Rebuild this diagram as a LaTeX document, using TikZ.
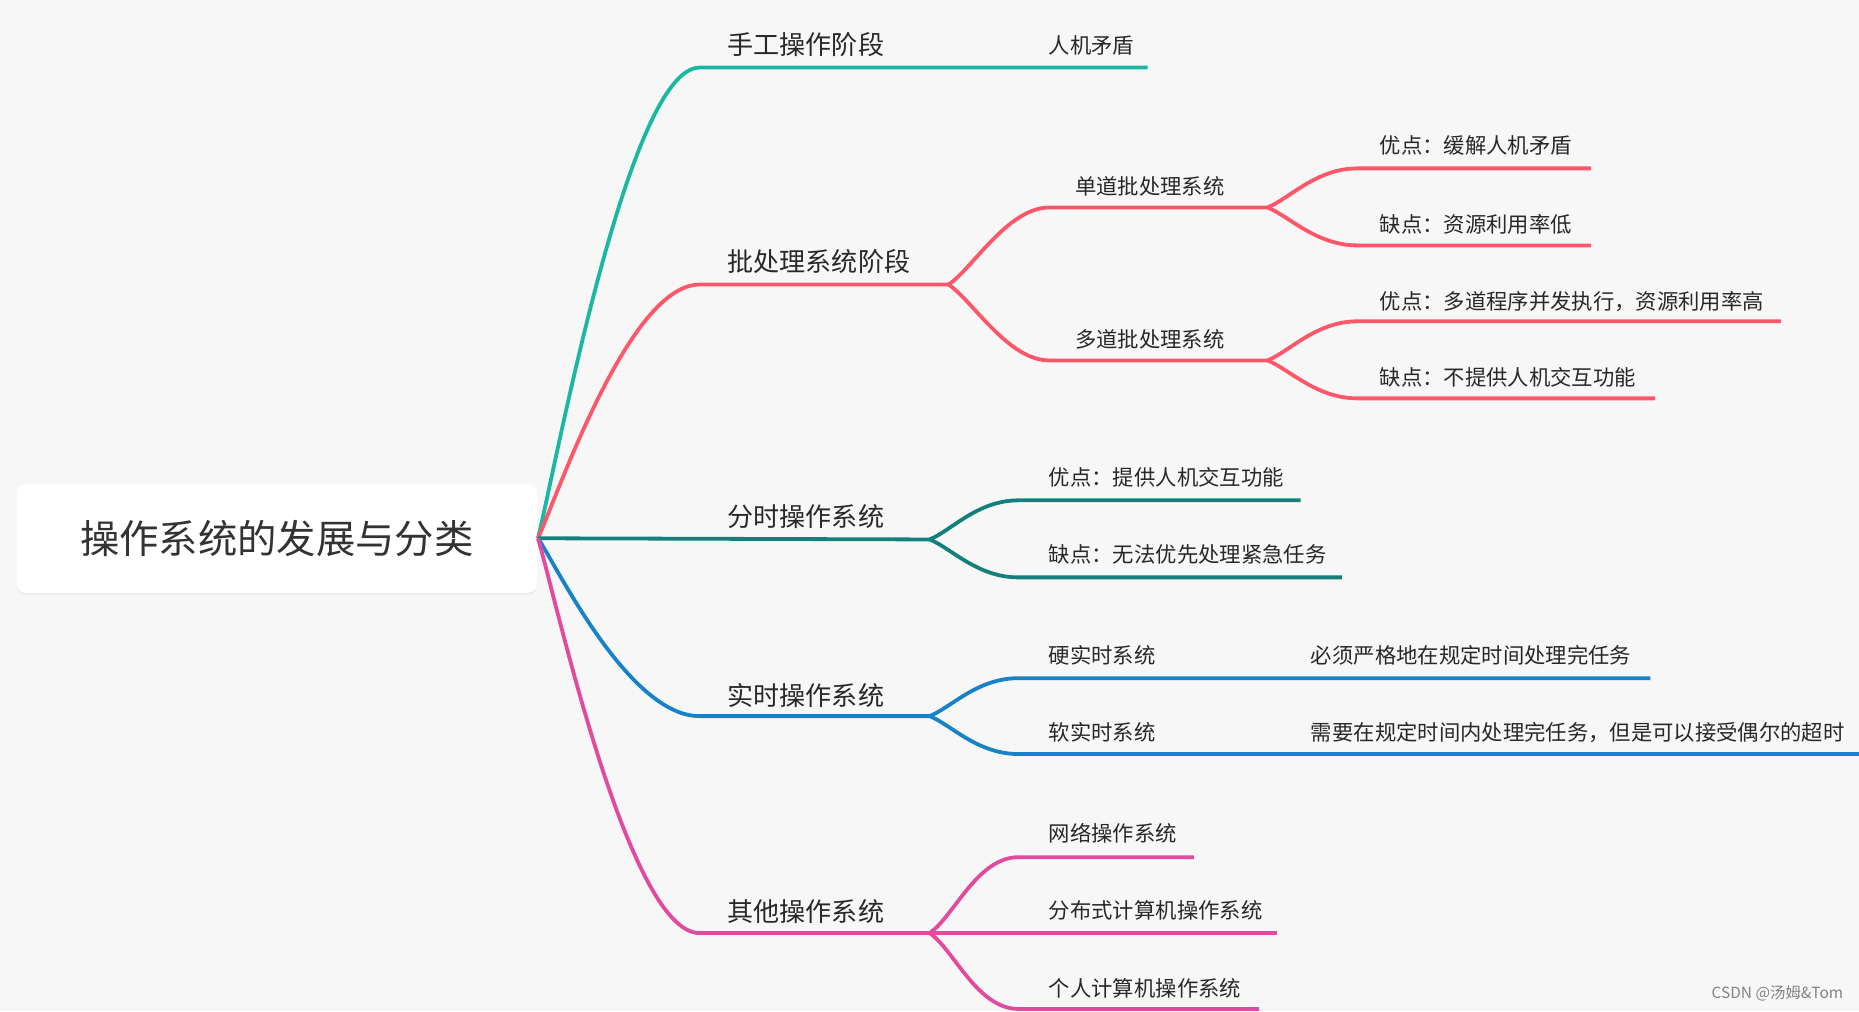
\documentclass[tikz,border=0pt]{standalone}
\usepackage{fontspec}
\setmainfont{Noto Sans CJK SC}
\usetikzlibrary{shadows}

\tikzset{every picture/.style={line width=0.75pt}}
\tikzset{
  sgline/.style={draw={rgb, 255:red, 26; green, 184; blue, 162 }, line width=1.6pt},
  pcline/.style={draw={rgb, 255:red, 252; green, 88; blue, 106 }, line width=1.6pt},
  fsline/.style={draw={rgb, 255:red, 20; green, 128; blue, 124 }, line width=1.6pt},
  ssline/.style={draw={rgb, 255:red, 24; green, 130; blue, 200 }, line width=1.6pt},
  qtline/.style={draw={rgb, 255:red, 226; green, 74; blue, 160 }, line width=1.6pt},
  lvone/.style={anchor=west, inner sep=0pt, text={rgb, 255:red, 40; green, 40; blue, 40 }, font=\fontsize{11}{13}\selectfont},
  lvtwo/.style={anchor=west, inner sep=0pt, text={rgb, 255:red, 40; green, 40; blue, 40 }, font=\fontsize{9}{11}\selectfont},
  rootbox/.style={fill=white, rounded corners=4pt, inner sep=0pt, minimum width=219.5pt, minimum height=46pt,
    drop shadow={opacity=0.07, shadow xshift=0pt, shadow yshift=-1pt},
    text={rgb, 255:red, 51; green, 51; blue, 51 }, font=\fontsize{16.6}{20}\selectfont},
}

\begin{document}
\begin{tikzpicture}[x=0.5pt,y=0.5pt,yscale=-1,xscale=1]
	\useasboundingbox (0,0) rectangle (1568,853);
	%Shape: Rectangle [background]
	\fill [fill={rgb, 255:red, 247; green, 247; blue, 247 }] (0,0) rectangle (1568,853);

	%Shape: Rounded Rectangle [root]
	\node [rootbox] (root) at (233.5,454) {操作系统的发展与分类};

	%Points of the branches
	\coordinate (sgturn) at (590,57);   \coordinate (rjend) at (968,57);
	\coordinate (pcturn) at (590,240);  \coordinate (pcfork) at (800,240);
	\coordinate (ddturn) at (885,175);  \coordinate (ddfork) at (1069,175);
	\coordinate (ddyturn) at (1145,142); \coordinate (ddyend) at (1342,142);
	\coordinate (ddqturn) at (1145,207); \coordinate (ddqend) at (1342,207);
	\coordinate (mdturn) at (885,304);  \coordinate (mdfork) at (1069,304);
	\coordinate (mdyturn) at (1145,271); \coordinate (mdyend) at (1502,271);
	\coordinate (mdqturn) at (1145,336); \coordinate (mdqend) at (1396,336);
	\coordinate (fsfork) at (784,455);
	\coordinate (fsyturn) at (859,422); \coordinate (fsyend) at (1097,422);
	\coordinate (fsqturn) at (859,487); \coordinate (fsqend) at (1132,487);
	\coordinate (ssturn) at (590,604);  \coordinate (ssfork) at (784,604);
	\coordinate (ssyturn) at (859,572); \coordinate (ssyend) at (1392,572);
	\coordinate (ssrturn) at (859,636); \coordinate (ssrend) at (1568,636);
	\coordinate (qtturn) at (590,787);  \coordinate (qtfork) at (784,787);
	\coordinate (qaturn) at (859,723);  \coordinate (qaend) at (1007,723);
	\coordinate (qbend) at (1077,787);
	\coordinate (qcturn) at (859,851);  \coordinate (qcend) at (1062,851);

	%Curve Lines [手工操作阶段]
	\draw [sgline] (root.east) .. controls +(15,-60) and +(-60,0) .. (sgturn) -- (rjend) ;
	%Curve Lines [批处理系统阶段]
	\draw [pcline] (root.east) .. controls +(15,-32) and +(-60,0) .. (pcturn) -- (pcfork) ;
	\draw [pcline] (pcfork) .. controls +(20,-13) and +(-35,0) .. (ddturn) -- (ddfork) ;
	\draw [pcline] (pcfork) .. controls +(20,13) and +(-35,0) .. (mdturn) -- (mdfork) ;
	\draw [pcline] (ddfork) .. controls +(18,-7) and +(-35,0) .. (ddyturn) -- (ddyend) ;
	\draw [pcline] (ddfork) .. controls +(18,7) and +(-35,0) .. (ddqturn) -- (ddqend) ;
	\draw [pcline] (mdfork) .. controls +(18,-7) and +(-35,0) .. (mdyturn) -- (mdyend) ;
	\draw [pcline] (mdfork) .. controls +(18,7) and +(-35,0) .. (mdqturn) -- (mdqend) ;
	%Curve Lines [分时操作系统]
	\draw [fsline] (root.east) -- (fsfork) ;
	\draw [fsline] (fsfork) .. controls +(18,-7) and +(-35,0) .. (fsyturn) -- (fsyend) ;
	\draw [fsline] (fsfork) .. controls +(18,7) and +(-35,0) .. (fsqturn) -- (fsqend) ;
	%Curve Lines [实时操作系统]
	\draw [ssline] (root.east) .. controls +(15,22) and +(-60,0) .. (ssturn) -- (ssfork) ;
	\draw [ssline] (ssfork) .. controls +(18,-7) and +(-35,0) .. (ssyturn) -- (ssyend) ;
	\draw [ssline] (ssfork) .. controls +(18,7) and +(-35,0) .. (ssrturn) -- (ssrend) ;
	%Curve Lines [其他操作系统]
	\draw [qtline] (root.east) .. controls +(15,50) and +(-60,0) .. (qtturn) -- (qtfork) ;
	\draw [qtline] (qtfork) .. controls +(20,-13) and +(-35,0) .. (qaturn) -- (qaend) ;
	\draw [qtline] (qtfork) -- (qbend) ;
	\draw [qtline] (qtfork) .. controls +(20,13) and +(-35,0) .. (qcturn) -- (qcend) ;

	% Text Node
	\node [lvone] (sgtxt) at (613,38) {手工操作阶段};
	% Text Node
	\node [lvtwo] (rjtxt) at (884,38) {人机矛盾};
	% Text Node
	\node [lvone] (pctxt) at (613,221) {批处理系统阶段};
	% Text Node
	\node [lvtwo] (ddtxt) at (906,157) {单道批处理系统};
	% Text Node
	\node [lvtwo] (ddytxt) at (1163,123) {优点：缓解人机矛盾};
	% Text Node
	\node [lvtwo] (ddqtxt) at (1163,189) {缺点：资源利用率低};
	% Text Node
	\node [lvtwo] (mdtxt) at (906,286) {多道批处理系统};
	% Text Node
	\node [lvtwo] (mdytxt) at (1163,254) {优点：多道程序并发执行，资源利用率高};
	% Text Node
	\node [lvtwo] (mdqtxt) at (1163,318) {缺点：不提供人机交互功能};
	% Text Node
	\node [lvone] (fstxt) at (613,436) {分时操作系统};
	% Text Node
	\node [lvtwo] (fsytxt) at (884,403) {优点：提供人机交互功能};
	% Text Node
	\node [lvtwo] (fsqtxt) at (884,468) {缺点：无法优先处理紧急任务};
	% Text Node
	\node [lvone] (sstxt) at (613,587) {实时操作系统};
	% Text Node
	\node [lvtwo] (ssytxt) at (884,553) {硬实时系统};
	% Text Node
	\node [lvtwo] (ssyinfo) at (1105,553) {必须严格地在规定时间处理完任务};
	% Text Node
	\node [lvtwo] (ssrtxt) at (884,618) {软实时系统};
	% Text Node
	\node [lvtwo] (ssrinfo) at (1105,618) {需要在规定时间内处理完任务，但是可以接受偶尔的超时};
	% Text Node
	\node [lvone] (qttxt) at (613,769) {其他操作系统};
	% Text Node
	\node [lvtwo] (qatxt) at (884,703) {网络操作系统};
	% Text Node
	\node [lvtwo] (qbtxt) at (884,768) {分布式计算机操作系统};
	% Text Node
	\node [lvtwo] (qctxt) at (884,834) {个人计算机操作系统};
	% Text Node
	\node [anchor=west, inner sep=0pt, text={rgb, 255:red, 130; green, 130; blue, 130 }, font=\fontsize{6.5}{8}\selectfont] (marktxt) at (1443,838) {CSDN @汤姆\&Tom};

\end{tikzpicture}
\end{document}
